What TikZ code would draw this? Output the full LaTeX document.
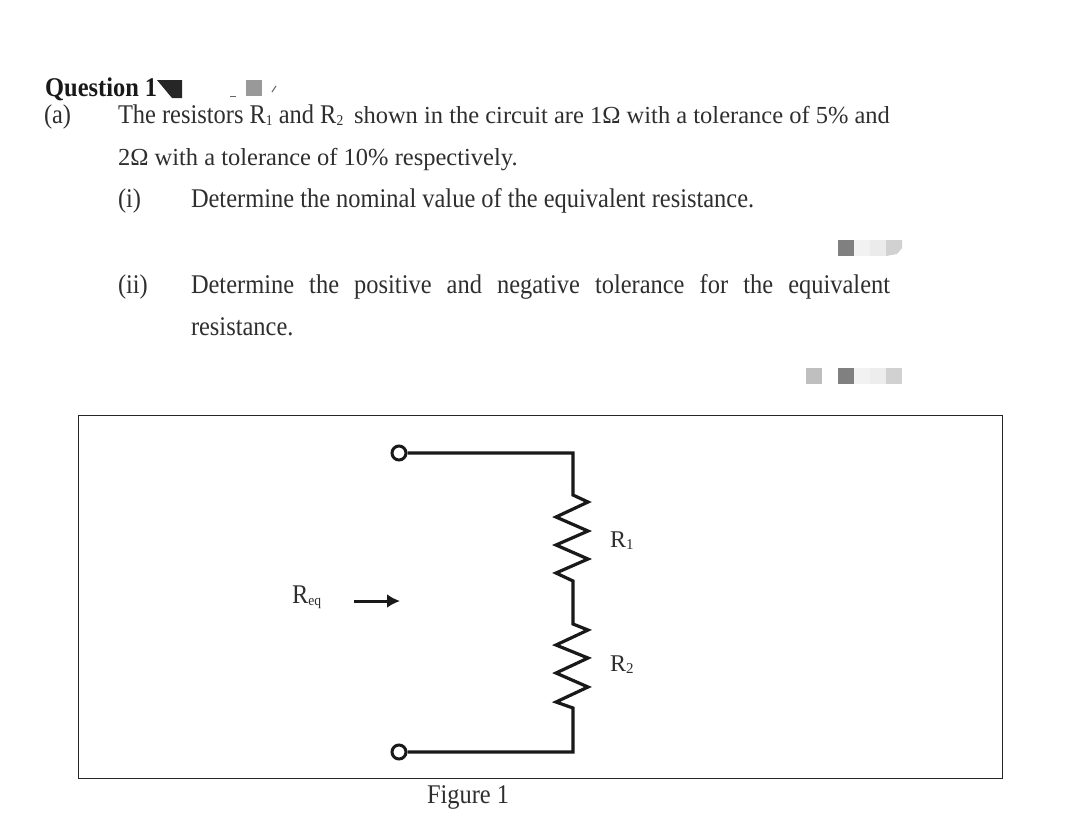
\documentclass[tikz,border=0pt]{standalone}
\usepackage{fontspec}
\setmainfont{Liberation Serif}
\newfontfamily\cond[FakeStretch=0.905]{Liberation Serif}
\newfontfamily\condb[FakeStretch=0.905]{Liberation Serif Bold}
\usetikzlibrary{arrows.meta}
\definecolor{ink}{gray}{0.18}
\tikzset{
  txt/.style={anchor=base west,inner sep=0pt,outer sep=0pt,text=ink,font=\fontsize{27}{27}\selectfont\cond},
  wide/.style={anchor=base west,inner sep=0pt,outer sep=0pt,text=ink,font=\fontsize{24.5}{24.5}\selectfont},
  lab/.style={anchor=base west,inner sep=0pt,outer sep=0pt,text=ink,font=\fontsize{24}{24}\selectfont},
  wire/.style={line width=3.2pt,black!90,line join=miter},
  term/.style={circle,draw=black!90,line width=3pt,fill=white,minimum size=14pt,inner sep=0pt},
  blk/.style={inner sep=0pt,outer sep=0pt,minimum width=16pt,minimum height=16pt,anchor=north west}
}
\newcommand{\sub}[1]{{\fontsize{15}{15}\selectfont\raisebox{-2pt}{#1}}}
\begin{document}
\begin{tikzpicture}[x=1pt,y=-1pt]
\useasboundingbox (0,0) rectangle (1070,823);
% text
\node[anchor=base west,inner sep=0pt,text=black!90,font=\fontsize{27}{27}\selectfont\condb] (q) at (45,96) {Question 1};
\node[txt] (a) at (44,123) {(a)};
\node[txt] (l1a) at (118,123) {The resistors R\sub{1} and R\sub{2}};
\node[wide] (l1b) at (354,123) {shown in the circuit are 1Ω with a tolerance of 5\% and};
\node[wide] (l2) at (118,165) {2Ω with a tolerance of 10\% respectively.};
\node[txt] (i) at (118,207) {(i)};
\node[txt] (l3) at (191,207) {Determine the nominal value of the equivalent resistance.};
\node[txt] (ii) at (118,293) {(ii)};
\node[txt] (l4) at (191,293) {\hbox to 699pt{Determine\hfil the\hfil positive\hfil and\hfil negative\hfil tolerance\hfil for\hfil the\hfil equivalent}};
\node[txt] (l5) at (191,335) {resistance.};
% redaction marks
\fill[black!85] (157,80) -- (182,80) -- (182,98) -- (172,98) -- cycle;
\node[blk,fill=black!40] (m1) at (246,80) {};
\draw[black!60,line width=0.8pt] (230,96) -- (236,96);
\draw[black!60,line width=1pt] (272,92) -- (276,86);
\node[blk,fill=black!50] (m2) at (838,240) {};
\node[blk,fill=black!5] (m3) at (854,240) {};
\node[blk,fill=black!8] (m4) at (870,240) {};
\fill[black!18] (886,240) -- (902,240) -- (902,248) -- (897,254) -- (886,256) -- cycle;
\node[blk,fill=black!25] (m6) at (806,368) {};
\node[blk,fill=black!50] (m7) at (838,368) {};
\node[blk,fill=black!5] (m8) at (854,368) {};
\node[blk,fill=black!7] (m9) at (870,368) {};
\node[blk,fill=black!18] (m10) at (886,368) {};
% frame
\node[draw=black!85,line width=1.2pt,minimum width=924pt,minimum height=363pt,inner sep=0pt,anchor=north west] (frame) at (78,415) {};
% circuit
\node[term] (t1) at (399,453) {};
\node[term] (t2) at (399,752) {};
\coordinate (c1) at (573,453);
\coordinate (c2) at (573,752);
\draw[wire] (t1) -- (c1) -- (573,495) -- (588,502) -- (556,517) -- (588,531) -- (556,545) -- (588,559) -- (556,573) -- (573,581) -- (573,624) -- (588,630) -- (556,645) -- (588,658) -- (556,673) -- (588,687) -- (556,702) -- (573,708) -- (c2) -- (t2);
\node[lab] (r1) at (610,547) {R\sub{1}};
\node[lab] (r2) at (610,671) {R\sub{2}};
\node[lab,font=\fontsize{27}{27}\selectfont\cond] (req) at (292,603) {R\sub{eq}};
\coordinate (ar1) at (354,601);
\coordinate (ar2) at (400,601);
\draw[line width=3pt,black!90,-{Latex[length=13pt,width=14pt]}] (ar1) -- (ar2);
\node[txt] (fig) at (427,803) {Figure 1};
\end{tikzpicture}
\end{document}
